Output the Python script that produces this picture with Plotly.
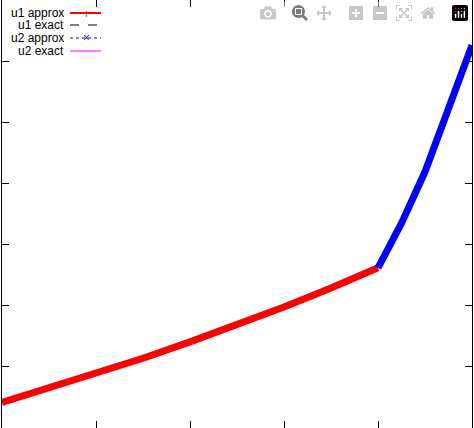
import plotly.graph_objects as go

x1 = [0.0, 0.1, 0.2, 0.3, 0.4, 0.5, 0.6, 0.7, 0.8]
u1 = [0.418, 0.65, 0.892, 1.14, 1.408, 1.69, 1.98, 2.29, 2.62]
x2 = [0.8, 0.85, 0.9, 0.95, 1.0]
u2 = [2.62, 3.35, 4.19, 5.22, 6.26]
legend_labels = ["u1 approx", "u1 exact", "u2 approx", "u2 exact"]

fig = go.Figure()
fig.add_trace(go.Scatter(x=x1, y=u1, mode="lines", line=dict(color="black", width=1, dash="dash"), showlegend=False))
fig.add_trace(go.Scatter(x=x2, y=u2, mode="lines", line=dict(color="magenta", width=1), showlegend=False))
fig.add_trace(go.Scatter(x=x1, y=u1, mode="lines", line=dict(color="red", width=7), showlegend=False))
fig.add_trace(go.Scatter(x=x2, y=u2, mode="lines", line=dict(color="blue", width=7), showlegend=False))

styles = [dict(color="red", width=2), dict(color="black", width=1, dash="dash"),
          dict(color="blue", width=1, dash="dot"), dict(color="magenta", width=1)]
ypix = [13, 25, 38, 51]
H = 428
for lab, st, yp in zip(legend_labels, styles, ypix):
    yy = 1 - yp / H
    fig.add_annotation(x=(66 - 2) / 470, y=yy, xref="paper", yref="paper", text=lab, showarrow=False,
                       xanchor="right", yanchor="middle", font=dict(family="Liberation Sans", size=12, color="black"))
    fig.add_shape(type="line", xref="paper", yref="paper", x0=(70 - 2) / 470, x1=(101 - 2) / 470, y0=yy, y1=yy, line=st)
fig.add_annotation(x=(86 - 2) / 470, y=1 - 13 / H, xref="paper", yref="paper", text="+", showarrow=False,
                   xanchor="center", yanchor="middle", font=dict(color="red", size=12))
fig.add_annotation(x=(86 - 2) / 470, y=1 - 38 / H, xref="paper", yref="paper", text="×", showarrow=False,
                   xanchor="center", yanchor="middle", font=dict(color="blue", size=12))

fig.update_xaxes(range=[0, 1], dtick=0.2, ticks="inside", ticklen=7, showticklabels=False, showgrid=False,
                 zeroline=False, showline=True, linecolor="black", linewidth=1, mirror="allticks", tickcolor="black")
fig.update_yaxes(range=[0, 7], dtick=1, ticks="inside", ticklen=7, showticklabels=False, showgrid=False,
                 zeroline=False, showline=True, linecolor="black", linewidth=1, mirror="allticks", tickcolor="black")
fig.update_layout(width=474, height=428, margin=dict(l=2, r=2, t=0, b=0), plot_bgcolor="white", paper_bgcolor="white")
fig.write_html("out.html", post_script="document.body.style.margin='0';document.body.style.overflow='hidden';")
